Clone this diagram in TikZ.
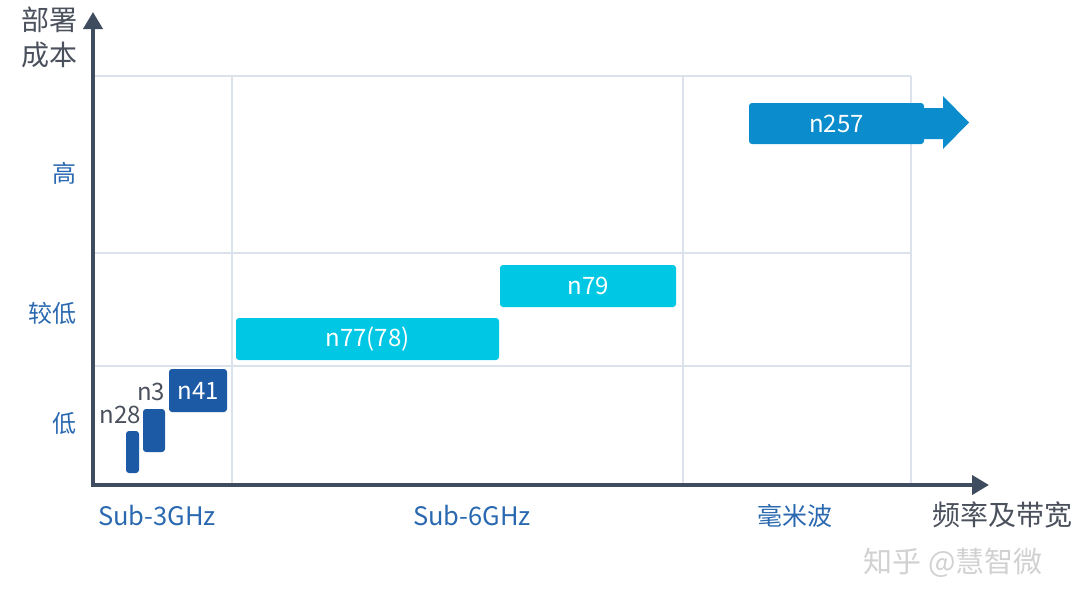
\documentclass[tikz,border=0pt]{standalone}
\usepackage{fontspec}
\setmainfont{Noto Sans CJK SC}
\usetikzlibrary{arrows.meta}
\definecolor{axiscol}{HTML}{3F4B5F}
\definecolor{gridcol}{HTML}{DCE2EB}
\definecolor{darkb}{HTML}{1C5AA6}
\definecolor{cyanb}{HTML}{00C7E3}
\definecolor{midb}{HTML}{0A8CCD}
\definecolor{lblue}{HTML}{2A69B0}
\definecolor{graytxt}{HTML}{4A505C}
\tikzset{
  axis/.style={draw=axiscol, line width=4pt},
  gridline/.style={draw=gridcol, line width=1.3pt},
  bar/.style={rectangle, rounded corners=3pt, inner sep=0pt, text=white, font=\fontsize{24}{28}\selectfont},
  glabel/.style={text=graytxt, inner sep=0pt, font=\fontsize{24}{28}\selectfont},
  ylab/.style={text=lblue, inner sep=0pt, anchor=east, font=\fontsize{24}{28}\selectfont},
  xlab/.style={text=lblue, inner sep=0pt, font=\fontsize{25.5}{30}\selectfont},
  title/.style={text=graytxt, inner sep=0pt, font=\fontsize{28}{35}\selectfont, align=center},
}
\begin{document}
\begin{tikzpicture}[x=1pt,y=-1pt]
\useasboundingbox (0,0) rectangle (1080,611);
% grid
\draw[gridline] (93,76) -- (911,76);
\draw[gridline] (93,253) -- (911,253);
\draw[gridline] (93,366) -- (911,366);
\draw[gridline] (232,76) -- (232,485);
\draw[gridline] (683,76) -- (683,485);
\draw[gridline] (911,76) -- (911,485);
% axes
\coordinate (ytip) at (93,12);
\coordinate (o) at (93,485);
\coordinate (xtip) at (989,485);
\draw[axis, {Triangle[length=17pt,width=19pt]}-{Triangle[length=17pt,width=19pt]}] (ytip) -- (o) -- (xtip);
% bars
\node[bar, fill=darkb, minimum width=13pt, minimum height=42pt] (n28) at (132.5,452) {};
\node[bar, fill=darkb, minimum width=22pt, minimum height=43pt] (n3) at (154,430.5) {};
\node[bar, fill=darkb, minimum width=58pt, minimum height=43pt] (n41) at (198,390.5) {n41};
\node[bar, fill=cyanb, minimum width=263pt, minimum height=42pt] (n77) at (367.5,339) {n77(78)};
\node[bar, fill=cyanb, minimum width=176pt, minimum height=42pt] (n79) at (588,286) {n79};
\fill[midb] (920,108) -- (943,108) -- (943,96) -- (969,122.5) -- (943,149) -- (943,139) -- (920,139) -- cycle;
\node[bar, fill=midb, minimum width=175pt, minimum height=41pt] (n257) at (836.5,123.5) {n257};
% small labels
\node[glabel, anchor=east] (l28) at (141,415) {n28};
\node[glabel] (l3) at (151,392) {n3};
% y labels
\node[title] (yt) at (49,37) {部署\\成本};
\node[ylab] (hi) at (77,173) {高};
\node[ylab] (mid) at (77,313) {较低};
\node[ylab] (lo) at (77,423) {低};
% x labels
\node[xlab] (s3) at (157,516) {Sub-3GHz};
\node[xlab] (s6) at (472,516) {Sub-6GHz};
\node[xlab, font=\fontsize{25}{30}\selectfont] (mm) at (795,516) {毫米波};
\node[title] (xt) at (1002,515) {频率及带宽};
% watermark
\node[text=black!18, inner sep=0pt, font=\fontsize{29}{32}\selectfont] (wm) at (953,563) {知乎 @慧智微};
\end{tikzpicture}
\end{document}
